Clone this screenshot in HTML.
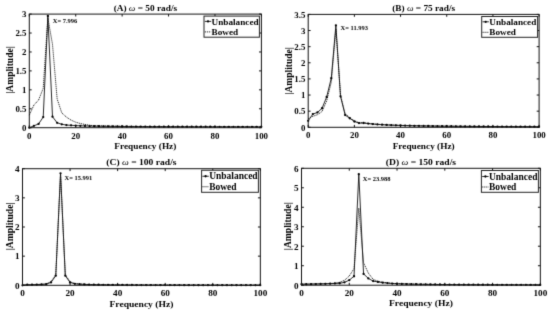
<!DOCTYPE html>
<html><head><meta charset="utf-8"><style>
html,body{margin:0;padding:0;background:#fff;width:550px;height:314px;overflow:hidden}
svg{display:block}
text{font-family:"Liberation Serif", "Times New Roman", serif;fill:#000}
.tk{font-size:8.9px;font-weight:bold}
.lb{font-size:9.3px;font-weight:bold}
.lt{font-size:9.2px;font-weight:bold}
.om{font-style:italic;font-weight:normal}
.dt{font-size:6.45px;font-weight:bold}
.ax{stroke:#111;stroke-width:1}
.box{fill:none;stroke:#111;stroke-width:1}
.lg{fill:#fff;stroke:#222;stroke-width:1}
.unb{fill:none;stroke:#111;stroke-width:0.9;stroke-linejoin:round}
.bow{fill:none;stroke:#2a2a2a;stroke-width:1;stroke-dasharray:1.2 0.8}
.mk{fill:#000}
</style></head><body>
<svg width="550" height="314" viewBox="0 0 550 314">
<defs><filter id="soft" x="0" y="0" width="550" height="314" filterUnits="userSpaceOnUse" color-interpolation-filters="sRGB"><feConvolveMatrix order="3" kernelMatrix="0.0144 0.0912 0.0144 0.0912 0.5776 0.0912 0.0144 0.0912 0.0144" divisor="1" edgeMode="duplicate" preserveAlpha="false"/></filter></defs>
<g filter="url(#soft)">
<rect width="550" height="314" fill="#fff"/>
<line x1="29.30" y1="127.70" x2="29.30" y2="125.30" class="ax"/>
<line x1="29.30" y1="14.10" x2="29.30" y2="16.50" class="ax"/>
<text x="29.30" y="138.70" class="tk" text-anchor="middle" style="font-size:8.90px">0</text>
<line x1="75.72" y1="127.70" x2="75.72" y2="125.30" class="ax"/>
<line x1="75.72" y1="14.10" x2="75.72" y2="16.50" class="ax"/>
<text x="75.72" y="138.70" class="tk" text-anchor="middle" style="font-size:8.90px">20</text>
<line x1="122.14" y1="127.70" x2="122.14" y2="125.30" class="ax"/>
<line x1="122.14" y1="14.10" x2="122.14" y2="16.50" class="ax"/>
<text x="122.14" y="138.70" class="tk" text-anchor="middle" style="font-size:8.90px">40</text>
<line x1="168.56" y1="127.70" x2="168.56" y2="125.30" class="ax"/>
<line x1="168.56" y1="14.10" x2="168.56" y2="16.50" class="ax"/>
<text x="168.56" y="138.70" class="tk" text-anchor="middle" style="font-size:8.90px">60</text>
<line x1="214.98" y1="127.70" x2="214.98" y2="125.30" class="ax"/>
<line x1="214.98" y1="14.10" x2="214.98" y2="16.50" class="ax"/>
<text x="214.98" y="138.70" class="tk" text-anchor="middle" style="font-size:8.90px">80</text>
<line x1="261.40" y1="127.70" x2="261.40" y2="125.30" class="ax"/>
<line x1="261.40" y1="14.10" x2="261.40" y2="16.50" class="ax"/>
<text x="261.40" y="138.70" class="tk" text-anchor="middle" style="font-size:8.90px">100</text>
<line x1="29.30" y1="127.70" x2="31.70" y2="127.70" class="ax"/>
<line x1="261.40" y1="127.70" x2="259.00" y2="127.70" class="ax"/>
<text x="26.50" y="131.00" class="tk" text-anchor="end" style="font-size:8.90px">0</text>
<line x1="29.30" y1="108.77" x2="31.70" y2="108.77" class="ax"/>
<line x1="261.40" y1="108.77" x2="259.00" y2="108.77" class="ax"/>
<text x="26.50" y="112.07" class="tk" text-anchor="end" style="font-size:8.90px">0.5</text>
<line x1="29.30" y1="89.83" x2="31.70" y2="89.83" class="ax"/>
<line x1="261.40" y1="89.83" x2="259.00" y2="89.83" class="ax"/>
<text x="26.50" y="93.13" class="tk" text-anchor="end" style="font-size:8.90px">1</text>
<line x1="29.30" y1="70.90" x2="31.70" y2="70.90" class="ax"/>
<line x1="261.40" y1="70.90" x2="259.00" y2="70.90" class="ax"/>
<text x="26.50" y="74.20" class="tk" text-anchor="end" style="font-size:8.90px">1.5</text>
<line x1="29.30" y1="51.97" x2="31.70" y2="51.97" class="ax"/>
<line x1="261.40" y1="51.97" x2="259.00" y2="51.97" class="ax"/>
<text x="26.50" y="55.27" class="tk" text-anchor="end" style="font-size:8.90px">2</text>
<line x1="29.30" y1="33.03" x2="31.70" y2="33.03" class="ax"/>
<line x1="261.40" y1="33.03" x2="259.00" y2="33.03" class="ax"/>
<text x="26.50" y="36.33" class="tk" text-anchor="end" style="font-size:8.90px">2.5</text>
<line x1="29.30" y1="14.10" x2="31.70" y2="14.10" class="ax"/>
<line x1="261.40" y1="14.10" x2="259.00" y2="14.10" class="ax"/>
<text x="26.50" y="17.40" class="tk" text-anchor="end" style="font-size:8.90px">3</text>
<polyline points="29.30,115.20 33.94,104.98 38.58,100.06 43.22,88.32 47.86,17.89 52.50,44.39 57.14,98.92 61.78,112.93 66.42,117.10 71.06,120.13 75.70,122.21 80.34,123.53 84.98,124.48 89.62,125.24 94.26,125.81 98.90,125.77 103.53,125.90 108.17,126.01 112.81,126.10 117.45,126.18 122.09,126.25 126.73,126.31 131.37,126.37 136.01,126.41 140.65,126.46 145.29,126.50 149.93,126.53 154.57,126.57 159.21,126.60 163.85,126.62 168.49,126.65 173.13,126.67 177.77,126.69 182.41,126.71 187.05,126.73 191.69,126.75 196.33,126.76 200.97,126.78 205.61,126.79 210.25,126.81 214.89,126.82 219.53,126.83 224.17,126.84 228.81,126.85 233.45,126.87 238.09,126.87 242.73,126.88 247.36,126.89 252.00,126.90 256.64,126.91 261.28,126.92" class="bow"/>
<polyline points="29.30,127.70 33.94,125.81 38.58,123.91 43.22,117.10 47.86,15.99 52.50,116.72 57.14,122.78 61.78,124.29 66.42,125.05 71.06,125.31 75.70,125.60 80.34,125.80 84.98,125.95 89.62,126.07 94.26,126.17 98.90,126.24 103.53,126.31 108.17,126.36 112.81,126.41 117.45,126.45 122.09,126.49 126.73,126.52 131.37,126.54 136.01,126.57 140.65,126.59 145.29,126.61 149.93,126.63 154.57,126.65 159.21,126.66 163.85,126.68 168.49,126.69 173.13,126.70 177.77,126.71 182.41,126.72 187.05,126.73 191.69,126.74 196.33,126.75 200.97,126.76 205.61,126.77 210.25,126.77 214.89,126.78 219.53,126.79 224.17,126.79 228.81,126.80 233.45,126.81 238.09,126.81 242.73,126.82 247.36,126.82 252.00,126.82 256.64,126.83 261.28,126.83" class="unb"/>
<circle cx="29.30" cy="127.70" r="1.15" class="mk"/>
<circle cx="33.94" cy="125.81" r="1.15" class="mk"/>
<circle cx="38.58" cy="123.91" r="1.15" class="mk"/>
<circle cx="43.22" cy="117.10" r="1.15" class="mk"/>
<circle cx="47.86" cy="15.99" r="1.15" class="mk"/>
<circle cx="52.50" cy="116.72" r="1.15" class="mk"/>
<circle cx="57.14" cy="122.78" r="1.15" class="mk"/>
<circle cx="61.78" cy="124.29" r="1.15" class="mk"/>
<circle cx="66.42" cy="125.05" r="1.15" class="mk"/>
<circle cx="71.06" cy="125.31" r="1.15" class="mk"/>
<circle cx="75.70" cy="125.60" r="1.15" class="mk"/>
<circle cx="80.34" cy="125.80" r="1.15" class="mk"/>
<circle cx="84.98" cy="125.95" r="1.15" class="mk"/>
<circle cx="89.62" cy="126.07" r="1.15" class="mk"/>
<circle cx="94.26" cy="126.17" r="1.15" class="mk"/>
<circle cx="98.90" cy="126.24" r="1.15" class="mk"/>
<circle cx="103.53" cy="126.31" r="1.15" class="mk"/>
<circle cx="108.17" cy="126.36" r="1.15" class="mk"/>
<circle cx="112.81" cy="126.41" r="1.15" class="mk"/>
<circle cx="117.45" cy="126.45" r="1.15" class="mk"/>
<circle cx="122.09" cy="126.49" r="1.15" class="mk"/>
<circle cx="126.73" cy="126.52" r="1.15" class="mk"/>
<circle cx="131.37" cy="126.54" r="1.15" class="mk"/>
<circle cx="136.01" cy="126.57" r="1.15" class="mk"/>
<circle cx="140.65" cy="126.59" r="1.15" class="mk"/>
<circle cx="145.29" cy="126.61" r="1.15" class="mk"/>
<circle cx="149.93" cy="126.63" r="1.15" class="mk"/>
<circle cx="154.57" cy="126.65" r="1.15" class="mk"/>
<circle cx="159.21" cy="126.66" r="1.15" class="mk"/>
<circle cx="163.85" cy="126.68" r="1.15" class="mk"/>
<circle cx="168.49" cy="126.69" r="1.15" class="mk"/>
<circle cx="173.13" cy="126.70" r="1.15" class="mk"/>
<circle cx="177.77" cy="126.71" r="1.15" class="mk"/>
<circle cx="182.41" cy="126.72" r="1.15" class="mk"/>
<circle cx="187.05" cy="126.73" r="1.15" class="mk"/>
<circle cx="191.69" cy="126.74" r="1.15" class="mk"/>
<circle cx="196.33" cy="126.75" r="1.15" class="mk"/>
<circle cx="200.97" cy="126.76" r="1.15" class="mk"/>
<circle cx="205.61" cy="126.77" r="1.15" class="mk"/>
<circle cx="210.25" cy="126.77" r="1.15" class="mk"/>
<circle cx="214.89" cy="126.78" r="1.15" class="mk"/>
<circle cx="219.53" cy="126.79" r="1.15" class="mk"/>
<circle cx="224.17" cy="126.79" r="1.15" class="mk"/>
<circle cx="228.81" cy="126.80" r="1.15" class="mk"/>
<circle cx="233.45" cy="126.81" r="1.15" class="mk"/>
<circle cx="238.09" cy="126.81" r="1.15" class="mk"/>
<circle cx="242.73" cy="126.82" r="1.15" class="mk"/>
<circle cx="247.36" cy="126.82" r="1.15" class="mk"/>
<circle cx="252.00" cy="126.82" r="1.15" class="mk"/>
<circle cx="256.64" cy="126.83" r="1.15" class="mk"/>
<circle cx="261.28" cy="126.83" r="1.15" class="mk"/>
<rect x="29.30" y="14.10" width="232.10" height="113.60" class="box"/>
<text x="52.80" y="22.90" class="dt">X= 7.996</text>
<text transform="translate(145.35,10.60) scale(1,0.87)" class="lb" text-anchor="middle" style="font-size:9.30px">(A) <tspan class="om">&#969;</tspan> = 50 rad/s</text>
<text transform="translate(145.35,148.90) scale(1,0.92)" class="lb" text-anchor="middle" style="font-size:9.30px">Frequency (Hz)</text>
<text transform="translate(12.60,70.00) rotate(-90)" class="lb" text-anchor="middle" style="font-size:9.50px">|Amplitude|</text>
<rect x="204.00" y="16.10" width="55.40" height="21.10" class="lg"/>
<line x1="204.80" y1="21.40" x2="211.20" y2="21.40" class="unb"/>
<circle cx="208.00" cy="21.40" r="1.15" class="mk"/>
<line x1="204.80" y1="31.90" x2="211.20" y2="31.90" class="bow"/>
<text x="211.60" y="24.50" class="lt" style="font-size:9.20px">Unbalanced</text>
<text x="211.60" y="35.00" class="lt" style="font-size:9.20px">Bowed</text>
<line x1="308.20" y1="127.30" x2="308.20" y2="124.90" class="ax"/>
<line x1="308.20" y1="14.40" x2="308.20" y2="16.80" class="ax"/>
<text x="308.20" y="138.30" class="tk" text-anchor="middle" style="font-size:8.90px">0</text>
<line x1="354.38" y1="127.30" x2="354.38" y2="124.90" class="ax"/>
<line x1="354.38" y1="14.40" x2="354.38" y2="16.80" class="ax"/>
<text x="354.38" y="138.30" class="tk" text-anchor="middle" style="font-size:8.90px">20</text>
<line x1="400.56" y1="127.30" x2="400.56" y2="124.90" class="ax"/>
<line x1="400.56" y1="14.40" x2="400.56" y2="16.80" class="ax"/>
<text x="400.56" y="138.30" class="tk" text-anchor="middle" style="font-size:8.90px">40</text>
<line x1="446.74" y1="127.30" x2="446.74" y2="124.90" class="ax"/>
<line x1="446.74" y1="14.40" x2="446.74" y2="16.80" class="ax"/>
<text x="446.74" y="138.30" class="tk" text-anchor="middle" style="font-size:8.90px">60</text>
<line x1="492.92" y1="127.30" x2="492.92" y2="124.90" class="ax"/>
<line x1="492.92" y1="14.40" x2="492.92" y2="16.80" class="ax"/>
<text x="492.92" y="138.30" class="tk" text-anchor="middle" style="font-size:8.90px">80</text>
<line x1="539.10" y1="127.30" x2="539.10" y2="124.90" class="ax"/>
<line x1="539.10" y1="14.40" x2="539.10" y2="16.80" class="ax"/>
<text x="539.10" y="138.30" class="tk" text-anchor="middle" style="font-size:8.90px">100</text>
<line x1="308.20" y1="127.30" x2="310.60" y2="127.30" class="ax"/>
<line x1="539.10" y1="127.30" x2="536.70" y2="127.30" class="ax"/>
<text x="305.40" y="130.60" class="tk" text-anchor="end" style="font-size:8.90px">0</text>
<line x1="308.20" y1="111.17" x2="310.60" y2="111.17" class="ax"/>
<line x1="539.10" y1="111.17" x2="536.70" y2="111.17" class="ax"/>
<text x="305.40" y="114.47" class="tk" text-anchor="end" style="font-size:8.90px">0.5</text>
<line x1="308.20" y1="95.04" x2="310.60" y2="95.04" class="ax"/>
<line x1="539.10" y1="95.04" x2="536.70" y2="95.04" class="ax"/>
<text x="305.40" y="98.34" class="tk" text-anchor="end" style="font-size:8.90px">1</text>
<line x1="308.20" y1="78.91" x2="310.60" y2="78.91" class="ax"/>
<line x1="539.10" y1="78.91" x2="536.70" y2="78.91" class="ax"/>
<text x="305.40" y="82.21" class="tk" text-anchor="end" style="font-size:8.90px">1.5</text>
<line x1="308.20" y1="62.79" x2="310.60" y2="62.79" class="ax"/>
<line x1="539.10" y1="62.79" x2="536.70" y2="62.79" class="ax"/>
<text x="305.40" y="66.09" class="tk" text-anchor="end" style="font-size:8.90px">2</text>
<line x1="308.20" y1="46.66" x2="310.60" y2="46.66" class="ax"/>
<line x1="539.10" y1="46.66" x2="536.70" y2="46.66" class="ax"/>
<text x="305.40" y="49.96" class="tk" text-anchor="end" style="font-size:8.90px">2.5</text>
<line x1="308.20" y1="30.53" x2="310.60" y2="30.53" class="ax"/>
<line x1="539.10" y1="30.53" x2="536.70" y2="30.53" class="ax"/>
<text x="305.40" y="33.83" class="tk" text-anchor="end" style="font-size:8.90px">3</text>
<line x1="308.20" y1="14.40" x2="310.60" y2="14.40" class="ax"/>
<line x1="539.10" y1="14.40" x2="536.70" y2="14.40" class="ax"/>
<text x="305.40" y="17.70" class="tk" text-anchor="end" style="font-size:8.90px">3.5</text>
<polyline points="308.20,118.59 312.82,116.33 317.43,114.72 322.05,111.49 326.66,100.85 331.28,82.14 335.89,28.92 340.51,95.04 345.13,113.75 349.74,117.62 354.36,120.85 358.97,122.78 363.59,122.73 368.20,123.38 372.82,123.87 377.44,124.25 382.05,124.56 386.67,124.81 391.28,125.01 395.90,125.19 400.51,125.34 405.13,125.47 409.75,125.59 414.36,125.69 418.98,125.78 423.59,125.86 428.21,125.93 432.82,125.99 437.44,126.05 442.06,126.11 446.67,126.16 451.29,126.20 455.90,126.24 460.52,126.28 465.13,126.32 469.75,126.35 474.36,126.39 478.98,126.42 483.60,126.44 488.21,126.47 492.83,126.49 497.44,126.52 502.06,126.54 506.67,126.56 511.29,126.58 515.91,126.60 520.52,126.61 525.14,126.63 529.75,126.65 534.37,126.66 538.98,126.68" class="bow"/>
<polyline points="308.20,120.85 312.82,114.07 317.43,112.46 322.05,108.27 326.66,96.98 331.28,78.27 335.89,25.37 340.51,96.33 345.13,115.04 349.74,118.27 354.36,121.49 358.97,123.11 363.59,122.99 368.20,123.61 372.82,124.07 377.44,124.43 382.05,124.72 386.67,124.95 391.28,125.15 395.90,125.31 400.51,125.46 405.13,125.58 409.75,125.69 414.36,125.78 418.98,125.87 423.59,125.94 428.21,126.01 432.82,126.07 437.44,126.13 442.06,126.18 446.67,126.22 451.29,126.27 455.90,126.31 460.52,126.34 465.13,126.38 469.75,126.41 474.36,126.44 478.98,126.47 483.60,126.49 488.21,126.52 492.83,126.54 497.44,126.56 502.06,126.58 506.67,126.60 511.29,126.62 515.91,126.64 520.52,126.65 525.14,126.67 529.75,126.69 534.37,126.70 538.98,126.71" class="unb"/>
<circle cx="308.20" cy="120.85" r="1.15" class="mk"/>
<circle cx="312.82" cy="114.07" r="1.15" class="mk"/>
<circle cx="317.43" cy="112.46" r="1.15" class="mk"/>
<circle cx="322.05" cy="108.27" r="1.15" class="mk"/>
<circle cx="326.66" cy="96.98" r="1.15" class="mk"/>
<circle cx="331.28" cy="78.27" r="1.15" class="mk"/>
<circle cx="335.89" cy="25.37" r="1.15" class="mk"/>
<circle cx="340.51" cy="96.33" r="1.15" class="mk"/>
<circle cx="345.13" cy="115.04" r="1.15" class="mk"/>
<circle cx="349.74" cy="118.27" r="1.15" class="mk"/>
<circle cx="354.36" cy="121.49" r="1.15" class="mk"/>
<circle cx="358.97" cy="123.11" r="1.15" class="mk"/>
<circle cx="363.59" cy="122.99" r="1.15" class="mk"/>
<circle cx="368.20" cy="123.61" r="1.15" class="mk"/>
<circle cx="372.82" cy="124.07" r="1.15" class="mk"/>
<circle cx="377.44" cy="124.43" r="1.15" class="mk"/>
<circle cx="382.05" cy="124.72" r="1.15" class="mk"/>
<circle cx="386.67" cy="124.95" r="1.15" class="mk"/>
<circle cx="391.28" cy="125.15" r="1.15" class="mk"/>
<circle cx="395.90" cy="125.31" r="1.15" class="mk"/>
<circle cx="400.51" cy="125.46" r="1.15" class="mk"/>
<circle cx="405.13" cy="125.58" r="1.15" class="mk"/>
<circle cx="409.75" cy="125.69" r="1.15" class="mk"/>
<circle cx="414.36" cy="125.78" r="1.15" class="mk"/>
<circle cx="418.98" cy="125.87" r="1.15" class="mk"/>
<circle cx="423.59" cy="125.94" r="1.15" class="mk"/>
<circle cx="428.21" cy="126.01" r="1.15" class="mk"/>
<circle cx="432.82" cy="126.07" r="1.15" class="mk"/>
<circle cx="437.44" cy="126.13" r="1.15" class="mk"/>
<circle cx="442.06" cy="126.18" r="1.15" class="mk"/>
<circle cx="446.67" cy="126.22" r="1.15" class="mk"/>
<circle cx="451.29" cy="126.27" r="1.15" class="mk"/>
<circle cx="455.90" cy="126.31" r="1.15" class="mk"/>
<circle cx="460.52" cy="126.34" r="1.15" class="mk"/>
<circle cx="465.13" cy="126.38" r="1.15" class="mk"/>
<circle cx="469.75" cy="126.41" r="1.15" class="mk"/>
<circle cx="474.36" cy="126.44" r="1.15" class="mk"/>
<circle cx="478.98" cy="126.47" r="1.15" class="mk"/>
<circle cx="483.60" cy="126.49" r="1.15" class="mk"/>
<circle cx="488.21" cy="126.52" r="1.15" class="mk"/>
<circle cx="492.83" cy="126.54" r="1.15" class="mk"/>
<circle cx="497.44" cy="126.56" r="1.15" class="mk"/>
<circle cx="502.06" cy="126.58" r="1.15" class="mk"/>
<circle cx="506.67" cy="126.60" r="1.15" class="mk"/>
<circle cx="511.29" cy="126.62" r="1.15" class="mk"/>
<circle cx="515.91" cy="126.64" r="1.15" class="mk"/>
<circle cx="520.52" cy="126.65" r="1.15" class="mk"/>
<circle cx="525.14" cy="126.67" r="1.15" class="mk"/>
<circle cx="529.75" cy="126.69" r="1.15" class="mk"/>
<circle cx="534.37" cy="126.70" r="1.15" class="mk"/>
<circle cx="538.98" cy="126.71" r="1.15" class="mk"/>
<rect x="308.20" y="14.40" width="230.90" height="112.90" class="box"/>
<text x="340.60" y="30.40" class="dt">X= 11.993</text>
<text transform="translate(423.65,10.90) scale(1,0.87)" class="lb" text-anchor="middle" style="font-size:9.30px">(B) <tspan class="om">&#969;</tspan> = 75 rad/s</text>
<text transform="translate(423.65,148.50) scale(1,0.92)" class="lb" text-anchor="middle" style="font-size:9.30px">Frequency (Hz)</text>
<text transform="translate(291.60,70.90) rotate(-90)" class="lb" text-anchor="middle" style="font-size:9.50px">|Amplitude|</text>
<rect x="481.70" y="16.50" width="55.90" height="20.80" class="lg"/>
<line x1="482.50" y1="21.80" x2="488.90" y2="21.80" class="unb"/>
<circle cx="485.70" cy="21.80" r="1.15" class="mk"/>
<line x1="482.50" y1="32.30" x2="488.90" y2="32.30" class="bow"/>
<text x="489.30" y="24.90" class="lt" style="font-size:9.20px">Unbalanced</text>
<text x="489.30" y="35.40" class="lt" style="font-size:9.20px">Bowed</text>
<line x1="22.50" y1="285.30" x2="22.50" y2="282.90" class="ax"/>
<line x1="22.50" y1="168.70" x2="22.50" y2="171.10" class="ax"/>
<text x="22.50" y="296.30" class="tk" text-anchor="middle" style="font-size:9.17px">0</text>
<line x1="70.07" y1="285.30" x2="70.07" y2="282.90" class="ax"/>
<line x1="70.07" y1="168.70" x2="70.07" y2="171.10" class="ax"/>
<text x="70.07" y="296.30" class="tk" text-anchor="middle" style="font-size:9.17px">20</text>
<line x1="117.64" y1="285.30" x2="117.64" y2="282.90" class="ax"/>
<line x1="117.64" y1="168.70" x2="117.64" y2="171.10" class="ax"/>
<text x="117.64" y="296.30" class="tk" text-anchor="middle" style="font-size:9.17px">40</text>
<line x1="165.21" y1="285.30" x2="165.21" y2="282.90" class="ax"/>
<line x1="165.21" y1="168.70" x2="165.21" y2="171.10" class="ax"/>
<text x="165.21" y="296.30" class="tk" text-anchor="middle" style="font-size:9.17px">60</text>
<line x1="212.78" y1="285.30" x2="212.78" y2="282.90" class="ax"/>
<line x1="212.78" y1="168.70" x2="212.78" y2="171.10" class="ax"/>
<text x="212.78" y="296.30" class="tk" text-anchor="middle" style="font-size:9.17px">80</text>
<line x1="260.35" y1="285.30" x2="260.35" y2="282.90" class="ax"/>
<line x1="260.35" y1="168.70" x2="260.35" y2="171.10" class="ax"/>
<text x="260.35" y="296.30" class="tk" text-anchor="middle" style="font-size:9.17px">100</text>
<line x1="22.50" y1="285.30" x2="24.90" y2="285.30" class="ax"/>
<line x1="260.35" y1="285.30" x2="257.95" y2="285.30" class="ax"/>
<text x="19.70" y="288.60" class="tk" text-anchor="end" style="font-size:9.17px">0</text>
<line x1="22.50" y1="256.15" x2="24.90" y2="256.15" class="ax"/>
<line x1="260.35" y1="256.15" x2="257.95" y2="256.15" class="ax"/>
<text x="19.70" y="259.45" class="tk" text-anchor="end" style="font-size:9.17px">1</text>
<line x1="22.50" y1="227.00" x2="24.90" y2="227.00" class="ax"/>
<line x1="260.35" y1="227.00" x2="257.95" y2="227.00" class="ax"/>
<text x="19.70" y="230.30" class="tk" text-anchor="end" style="font-size:9.17px">2</text>
<line x1="22.50" y1="197.85" x2="24.90" y2="197.85" class="ax"/>
<line x1="260.35" y1="197.85" x2="257.95" y2="197.85" class="ax"/>
<text x="19.70" y="201.15" class="tk" text-anchor="end" style="font-size:9.17px">3</text>
<line x1="22.50" y1="168.70" x2="24.90" y2="168.70" class="ax"/>
<line x1="260.35" y1="168.70" x2="257.95" y2="168.70" class="ax"/>
<text x="19.70" y="172.00" class="tk" text-anchor="end" style="font-size:9.17px">4</text>
<polyline points="22.50,285.01 27.25,284.72 32.01,284.57 36.76,284.43 41.52,284.28 46.27,283.84 51.03,281.80 55.78,274.81 60.54,174.53 65.29,274.81 70.05,281.80 74.80,283.55 79.56,283.99 84.31,284.28 89.06,284.45 93.82,284.57 98.57,284.66 103.33,284.73 108.08,284.79 112.84,284.84 117.59,284.87 122.35,284.91 127.10,284.94 131.86,284.96 136.61,284.98 141.37,285.00 146.12,285.02 150.87,285.03 155.63,285.04 160.38,285.06 165.14,285.07 169.89,285.08 174.65,285.09 179.40,285.10 184.16,285.10 188.91,285.11 193.67,285.12 198.42,285.12 203.18,285.13 207.93,285.14 212.68,285.14 217.44,285.15 222.19,285.15 226.95,285.15 231.70,285.16 236.46,285.16 241.21,285.17 245.97,285.17 250.72,285.17 255.48,285.18 260.23,285.18" class="bow"/>
<polyline points="22.50,285.30 27.25,284.72 32.01,284.72 36.76,284.57 41.52,284.43 46.27,284.13 51.03,282.38 55.78,275.68 60.54,173.36 65.29,275.68 70.05,282.38 74.80,283.84 79.56,284.13 84.31,284.42 89.06,284.57 93.82,284.67 98.57,284.75 103.33,284.81 108.08,284.86 112.84,284.90 117.59,284.94 122.35,284.96 127.10,284.99 131.86,285.01 136.61,285.03 141.37,285.04 146.12,285.06 150.87,285.07 155.63,285.08 160.38,285.09 165.14,285.10 169.89,285.11 174.65,285.12 179.40,285.12 184.16,285.13 188.91,285.14 193.67,285.14 198.42,285.15 203.18,285.15 207.93,285.16 212.68,285.16 217.44,285.17 222.19,285.17 226.95,285.17 231.70,285.18 236.46,285.18 241.21,285.18 245.97,285.19 250.72,285.19 255.48,285.19 260.23,285.20" class="unb"/>
<circle cx="22.50" cy="285.30" r="1.15" class="mk"/>
<circle cx="27.25" cy="284.72" r="1.15" class="mk"/>
<circle cx="32.01" cy="284.72" r="1.15" class="mk"/>
<circle cx="36.76" cy="284.57" r="1.15" class="mk"/>
<circle cx="41.52" cy="284.43" r="1.15" class="mk"/>
<circle cx="46.27" cy="284.13" r="1.15" class="mk"/>
<circle cx="51.03" cy="282.38" r="1.15" class="mk"/>
<circle cx="55.78" cy="275.68" r="1.15" class="mk"/>
<circle cx="60.54" cy="173.36" r="1.15" class="mk"/>
<circle cx="65.29" cy="275.68" r="1.15" class="mk"/>
<circle cx="70.05" cy="282.38" r="1.15" class="mk"/>
<circle cx="74.80" cy="283.84" r="1.15" class="mk"/>
<circle cx="79.56" cy="284.13" r="1.15" class="mk"/>
<circle cx="84.31" cy="284.42" r="1.15" class="mk"/>
<circle cx="89.06" cy="284.57" r="1.15" class="mk"/>
<circle cx="93.82" cy="284.67" r="1.15" class="mk"/>
<circle cx="98.57" cy="284.75" r="1.15" class="mk"/>
<circle cx="103.33" cy="284.81" r="1.15" class="mk"/>
<circle cx="108.08" cy="284.86" r="1.15" class="mk"/>
<circle cx="112.84" cy="284.90" r="1.15" class="mk"/>
<circle cx="117.59" cy="284.94" r="1.15" class="mk"/>
<circle cx="122.35" cy="284.96" r="1.15" class="mk"/>
<circle cx="127.10" cy="284.99" r="1.15" class="mk"/>
<circle cx="131.86" cy="285.01" r="1.15" class="mk"/>
<circle cx="136.61" cy="285.03" r="1.15" class="mk"/>
<circle cx="141.37" cy="285.04" r="1.15" class="mk"/>
<circle cx="146.12" cy="285.06" r="1.15" class="mk"/>
<circle cx="150.87" cy="285.07" r="1.15" class="mk"/>
<circle cx="155.63" cy="285.08" r="1.15" class="mk"/>
<circle cx="160.38" cy="285.09" r="1.15" class="mk"/>
<circle cx="165.14" cy="285.10" r="1.15" class="mk"/>
<circle cx="169.89" cy="285.11" r="1.15" class="mk"/>
<circle cx="174.65" cy="285.12" r="1.15" class="mk"/>
<circle cx="179.40" cy="285.12" r="1.15" class="mk"/>
<circle cx="184.16" cy="285.13" r="1.15" class="mk"/>
<circle cx="188.91" cy="285.14" r="1.15" class="mk"/>
<circle cx="193.67" cy="285.14" r="1.15" class="mk"/>
<circle cx="198.42" cy="285.15" r="1.15" class="mk"/>
<circle cx="203.18" cy="285.15" r="1.15" class="mk"/>
<circle cx="207.93" cy="285.16" r="1.15" class="mk"/>
<circle cx="212.68" cy="285.16" r="1.15" class="mk"/>
<circle cx="217.44" cy="285.17" r="1.15" class="mk"/>
<circle cx="222.19" cy="285.17" r="1.15" class="mk"/>
<circle cx="226.95" cy="285.17" r="1.15" class="mk"/>
<circle cx="231.70" cy="285.18" r="1.15" class="mk"/>
<circle cx="236.46" cy="285.18" r="1.15" class="mk"/>
<circle cx="241.21" cy="285.18" r="1.15" class="mk"/>
<circle cx="245.97" cy="285.19" r="1.15" class="mk"/>
<circle cx="250.72" cy="285.19" r="1.15" class="mk"/>
<circle cx="255.48" cy="285.19" r="1.15" class="mk"/>
<circle cx="260.23" cy="285.20" r="1.15" class="mk"/>
<rect x="22.50" y="168.70" width="237.85" height="116.60" class="box"/>
<text x="64.60" y="180.30" class="dt">X= 15.991</text>
<text transform="translate(141.43,165.20) scale(1,0.87)" class="lb" text-anchor="middle" style="font-size:9.58px">(C) <tspan class="om">&#969;</tspan> = 100 rad/s</text>
<text transform="translate(141.43,306.50) scale(1,0.92)" class="lb" text-anchor="middle" style="font-size:9.58px">Frequency (Hz)</text>
<text transform="translate(12.60,226.40) rotate(-90)" class="lb" text-anchor="middle" style="font-size:9.60px">|Amplitude|</text>
<rect x="201.60" y="170.25" width="56.80" height="22.05" class="lg"/>
<line x1="202.40" y1="176.25" x2="208.80" y2="176.25" class="unb"/>
<circle cx="205.60" cy="176.25" r="1.15" class="mk"/>
<line x1="202.40" y1="186.75" x2="208.80" y2="186.75" class="bow"/>
<text x="209.20" y="179.35" class="lt" style="font-size:9.48px">Unbalanced</text>
<text x="209.20" y="189.85" class="lt" style="font-size:9.48px">Bowed</text>
<line x1="301.50" y1="285.20" x2="301.50" y2="282.80" class="ax"/>
<line x1="301.50" y1="168.30" x2="301.50" y2="170.70" class="ax"/>
<text x="301.50" y="296.20" class="tk" text-anchor="middle" style="font-size:9.17px">0</text>
<line x1="349.27" y1="285.20" x2="349.27" y2="282.80" class="ax"/>
<line x1="349.27" y1="168.30" x2="349.27" y2="170.70" class="ax"/>
<text x="349.27" y="296.20" class="tk" text-anchor="middle" style="font-size:9.17px">20</text>
<line x1="397.04" y1="285.20" x2="397.04" y2="282.80" class="ax"/>
<line x1="397.04" y1="168.30" x2="397.04" y2="170.70" class="ax"/>
<text x="397.04" y="296.20" class="tk" text-anchor="middle" style="font-size:9.17px">40</text>
<line x1="444.81" y1="285.20" x2="444.81" y2="282.80" class="ax"/>
<line x1="444.81" y1="168.30" x2="444.81" y2="170.70" class="ax"/>
<text x="444.81" y="296.20" class="tk" text-anchor="middle" style="font-size:9.17px">60</text>
<line x1="492.58" y1="285.20" x2="492.58" y2="282.80" class="ax"/>
<line x1="492.58" y1="168.30" x2="492.58" y2="170.70" class="ax"/>
<text x="492.58" y="296.20" class="tk" text-anchor="middle" style="font-size:9.17px">80</text>
<line x1="540.35" y1="285.20" x2="540.35" y2="282.80" class="ax"/>
<line x1="540.35" y1="168.30" x2="540.35" y2="170.70" class="ax"/>
<text x="540.35" y="296.20" class="tk" text-anchor="middle" style="font-size:9.17px">100</text>
<line x1="301.50" y1="285.20" x2="303.90" y2="285.20" class="ax"/>
<line x1="540.35" y1="285.20" x2="537.95" y2="285.20" class="ax"/>
<text x="298.70" y="288.50" class="tk" text-anchor="end" style="font-size:9.17px">0</text>
<line x1="301.50" y1="265.72" x2="303.90" y2="265.72" class="ax"/>
<line x1="540.35" y1="265.72" x2="537.95" y2="265.72" class="ax"/>
<text x="298.70" y="269.02" class="tk" text-anchor="end" style="font-size:9.17px">1</text>
<line x1="301.50" y1="246.23" x2="303.90" y2="246.23" class="ax"/>
<line x1="540.35" y1="246.23" x2="537.95" y2="246.23" class="ax"/>
<text x="298.70" y="249.53" class="tk" text-anchor="end" style="font-size:9.17px">2</text>
<line x1="301.50" y1="226.75" x2="303.90" y2="226.75" class="ax"/>
<line x1="540.35" y1="226.75" x2="537.95" y2="226.75" class="ax"/>
<text x="298.70" y="230.05" class="tk" text-anchor="end" style="font-size:9.17px">3</text>
<line x1="301.50" y1="207.27" x2="303.90" y2="207.27" class="ax"/>
<line x1="540.35" y1="207.27" x2="537.95" y2="207.27" class="ax"/>
<text x="298.70" y="210.57" class="tk" text-anchor="end" style="font-size:9.17px">4</text>
<line x1="301.50" y1="187.78" x2="303.90" y2="187.78" class="ax"/>
<line x1="540.35" y1="187.78" x2="537.95" y2="187.78" class="ax"/>
<text x="298.70" y="191.08" class="tk" text-anchor="end" style="font-size:9.17px">5</text>
<line x1="301.50" y1="168.30" x2="303.90" y2="168.30" class="ax"/>
<line x1="540.35" y1="168.30" x2="537.95" y2="168.30" class="ax"/>
<text x="298.70" y="171.60" class="tk" text-anchor="end" style="font-size:9.17px">6</text>
<polyline points="301.50,284.03 306.27,284.03 311.05,283.93 315.82,283.84 320.60,283.74 325.37,283.64 330.15,283.45 334.92,283.25 339.70,282.28 344.47,280.33 349.25,276.04 354.02,268.64 358.80,208.05 363.57,262.79 368.34,273.12 373.12,279.36 377.89,281.30 382.67,282.28 387.44,282.86 392.22,283.39 396.99,283.61 401.77,283.79 406.54,283.93 411.32,284.05 416.09,284.14 420.87,284.22 425.64,284.29 430.41,284.35 435.19,284.41 439.96,284.45 444.74,284.50 449.51,284.53 454.29,284.57 459.06,284.60 463.84,284.62 468.61,284.65 473.39,284.67 478.16,284.69 482.94,284.71 487.71,284.73 492.48,284.75 497.26,284.76 502.03,284.78 506.81,284.79 511.58,284.80 516.36,284.82 521.13,284.83 525.91,284.84 530.68,284.85 535.46,284.86 540.23,284.87" class="bow"/>
<polyline points="301.50,284.23 306.27,284.23 311.05,284.13 315.82,284.03 320.60,283.93 325.37,283.84 330.15,283.64 334.92,283.45 339.70,283.25 344.47,282.37 349.25,280.13 354.02,276.24 358.80,174.14 363.57,273.90 368.34,278.38 373.12,281.11 377.89,281.89 382.67,282.67 387.44,283.06 392.22,283.53 396.99,283.74 401.77,283.90 406.54,284.03 411.32,284.14 416.09,284.22 420.87,284.30 425.64,284.36 430.41,284.42 435.19,284.47 439.96,284.51 444.74,284.55 449.51,284.58 454.29,284.62 459.06,284.64 463.84,284.67 468.61,284.69 473.39,284.71 478.16,284.73 482.94,284.75 487.71,284.77 492.48,284.78 497.26,284.80 502.03,284.81 506.81,284.82 511.58,284.83 516.36,284.85 521.13,284.86 525.91,284.87 530.68,284.88 535.46,284.88 540.23,284.89" class="unb"/>
<circle cx="301.50" cy="284.23" r="1.15" class="mk"/>
<circle cx="306.27" cy="284.23" r="1.15" class="mk"/>
<circle cx="311.05" cy="284.13" r="1.15" class="mk"/>
<circle cx="315.82" cy="284.03" r="1.15" class="mk"/>
<circle cx="320.60" cy="283.93" r="1.15" class="mk"/>
<circle cx="325.37" cy="283.84" r="1.15" class="mk"/>
<circle cx="330.15" cy="283.64" r="1.15" class="mk"/>
<circle cx="334.92" cy="283.45" r="1.15" class="mk"/>
<circle cx="339.70" cy="283.25" r="1.15" class="mk"/>
<circle cx="344.47" cy="282.37" r="1.15" class="mk"/>
<circle cx="349.25" cy="280.13" r="1.15" class="mk"/>
<circle cx="354.02" cy="276.24" r="1.15" class="mk"/>
<circle cx="358.80" cy="174.14" r="1.15" class="mk"/>
<circle cx="363.57" cy="273.90" r="1.15" class="mk"/>
<circle cx="368.34" cy="278.38" r="1.15" class="mk"/>
<circle cx="373.12" cy="281.11" r="1.15" class="mk"/>
<circle cx="377.89" cy="281.89" r="1.15" class="mk"/>
<circle cx="382.67" cy="282.67" r="1.15" class="mk"/>
<circle cx="387.44" cy="283.06" r="1.15" class="mk"/>
<circle cx="392.22" cy="283.53" r="1.15" class="mk"/>
<circle cx="396.99" cy="283.74" r="1.15" class="mk"/>
<circle cx="401.77" cy="283.90" r="1.15" class="mk"/>
<circle cx="406.54" cy="284.03" r="1.15" class="mk"/>
<circle cx="411.32" cy="284.14" r="1.15" class="mk"/>
<circle cx="416.09" cy="284.22" r="1.15" class="mk"/>
<circle cx="420.87" cy="284.30" r="1.15" class="mk"/>
<circle cx="425.64" cy="284.36" r="1.15" class="mk"/>
<circle cx="430.41" cy="284.42" r="1.15" class="mk"/>
<circle cx="435.19" cy="284.47" r="1.15" class="mk"/>
<circle cx="439.96" cy="284.51" r="1.15" class="mk"/>
<circle cx="444.74" cy="284.55" r="1.15" class="mk"/>
<circle cx="449.51" cy="284.58" r="1.15" class="mk"/>
<circle cx="454.29" cy="284.62" r="1.15" class="mk"/>
<circle cx="459.06" cy="284.64" r="1.15" class="mk"/>
<circle cx="463.84" cy="284.67" r="1.15" class="mk"/>
<circle cx="468.61" cy="284.69" r="1.15" class="mk"/>
<circle cx="473.39" cy="284.71" r="1.15" class="mk"/>
<circle cx="478.16" cy="284.73" r="1.15" class="mk"/>
<circle cx="482.94" cy="284.75" r="1.15" class="mk"/>
<circle cx="487.71" cy="284.77" r="1.15" class="mk"/>
<circle cx="492.48" cy="284.78" r="1.15" class="mk"/>
<circle cx="497.26" cy="284.80" r="1.15" class="mk"/>
<circle cx="502.03" cy="284.81" r="1.15" class="mk"/>
<circle cx="506.81" cy="284.82" r="1.15" class="mk"/>
<circle cx="511.58" cy="284.83" r="1.15" class="mk"/>
<circle cx="516.36" cy="284.85" r="1.15" class="mk"/>
<circle cx="521.13" cy="284.86" r="1.15" class="mk"/>
<circle cx="525.91" cy="284.87" r="1.15" class="mk"/>
<circle cx="530.68" cy="284.88" r="1.15" class="mk"/>
<circle cx="535.46" cy="284.88" r="1.15" class="mk"/>
<circle cx="540.23" cy="284.89" r="1.15" class="mk"/>
<rect x="301.50" y="168.30" width="238.85" height="116.90" class="box"/>
<text x="362.80" y="181.10" class="dt">X= 23.988</text>
<text transform="translate(420.93,164.80) scale(1,0.87)" class="lb" text-anchor="middle" style="font-size:9.58px">(D) <tspan class="om">&#969;</tspan> = 150 rad/s</text>
<text transform="translate(420.93,306.40) scale(1,0.92)" class="lb" text-anchor="middle" style="font-size:9.58px">Frequency (Hz)</text>
<text transform="translate(291.40,226.20) rotate(-90)" class="lb" text-anchor="middle" style="font-size:9.60px">|Amplitude|</text>
<rect x="481.40" y="170.50" width="57.00" height="21.80" class="lg"/>
<line x1="482.20" y1="176.50" x2="488.60" y2="176.50" class="unb"/>
<circle cx="485.40" cy="176.50" r="1.15" class="mk"/>
<line x1="482.20" y1="187.00" x2="488.60" y2="187.00" class="bow"/>
<text x="489.00" y="179.60" class="lt" style="font-size:9.48px">Unbalanced</text>
<text x="489.00" y="190.10" class="lt" style="font-size:9.48px">Bowed</text>
</g>
</svg>
</body></html>
